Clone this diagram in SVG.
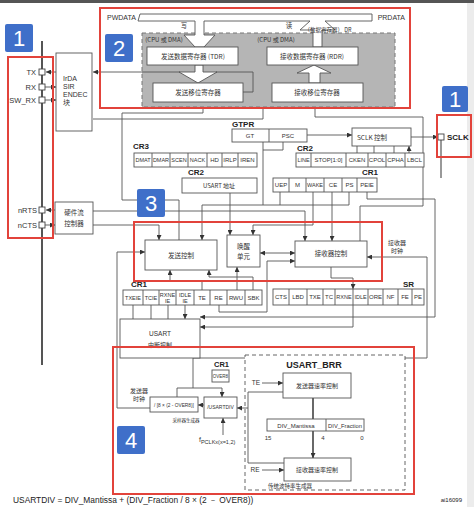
<svg xmlns="http://www.w3.org/2000/svg" width="474" height="507" viewBox="0 0 474 507">
<defs>
<style>
.b{fill:#fff;stroke:#555;stroke-width:0.9}
.l{fill:none;stroke:#555;stroke-width:0.9}
.t{font-family:"Liberation Sans","Noto Sans CJK SC",sans-serif;fill:#333;text-anchor:middle;font-size:6px}
.c{font-family:"Noto Sans CJK SC",sans-serif;fill:#333;text-anchor:middle;font-size:6.5px}
.h{font-family:"Liberation Sans",sans-serif;fill:#222;font-weight:bold;font-size:8px}
.p{font-family:"Liberation Sans",sans-serif;fill:#333;font-size:7.5px;text-anchor:end}
.red{fill:none;stroke:#e2433b;stroke-width:2}
.bg{fill:#3f6fc9}
.bt{font-family:"Liberation Sans",sans-serif;fill:#fff;font-size:22px;text-anchor:middle}
</style>
<marker id="a" viewBox="0 0 6 6" refX="6" refY="3" markerWidth="5" markerHeight="5" markerUnits="userSpaceOnUse" orient="auto-start-reverse"><path d="M0,0L6,3L0,6z" fill="#333"/></marker>
</defs>
<rect x="0" y="0" width="474" height="507" fill="#fff"/>
<rect x="0" y="0" width="474" height="3" fill="#555"/>
<rect x="467" y="3" width="7" height="504" fill="#ececec"/>

<g id="connectors">
<line x1="42" y1="41" x2="42" y2="365" stroke="#555" stroke-width="2"/>
<line x1="441" y1="140" x2="441" y2="178" stroke="#555" stroke-width="1.2"/>
<path class="l" d="M56,72H46" marker-end="url(#a)"/>
<path class="l" d="M45,87H56" marker-end="url(#a)"/>
<path class="l" d="M45,100H56" marker-end="url(#a)"/>
<path class="l" d="M55,210H46" marker-end="url(#a)"/>
<path class="l" d="M45,225H55" marker-end="url(#a)"/>
<path class="l" d="M243,92H253V72H93" marker-end="url(#a)"/>
<path class="l" d="M93,119H263V93H272" marker-end="url(#a)"/>
<path class="l" d="M179,240V200H122V113H203V102" marker-end="url(#a)"/>
<path class="l" d="M360,241V206H423V117H315V102" marker-end="url(#a)"/>
<path class="l" d="M263,142V205"/>
<path class="l" d="M283,142V150H263"/>
<path class="l" d="M307,135H352" marker-end="url(#a)"/>
<path class="l" d="M411,137H438" marker-end="url(#a)"/>
<path class="l" d="M357,153V146M374,153V146M394,153V146M409,153V146" marker-end="url(#a)"/>
<path class="l" d="M230,193V235" marker-end="url(#a)"/>
<path class="l" d="M280,192V205M349,192V205H202V240" marker-end="url(#a)"/>
<path class="l" d="M313,192V225H253V235" marker-end="url(#a)"/>
<path class="l" d="M332,192V241" marker-end="url(#a)"/>
<path class="l" d="M367,192V199H435V317H200" marker-end="url(#a)"/>
<path class="l" d="M93,211H305V241" marker-end="url(#a)"/>
<path class="l" d="M93,225H159V240" marker-end="url(#a)"/>
<path class="l" d="M260,253H295" marker-start="url(#a)" marker-end="url(#a)"/>
<path class="l" d="M219,305V312H267V261H295" marker-end="url(#a)"/>
<path class="l" d="M237,290V267" marker-end="url(#a)"/>
<path class="l" d="M202,290V281H170V270" marker-end="url(#a)"/>
<path class="l" d="M253,290V277H209V270" marker-end="url(#a)"/>
<path class="l" d="M150,408H117V252H145" marker-end="url(#a)"/>
<path class="l" d="M331,267V278H353V289" marker-end="url(#a)"/>
<path class="l" d="M353,305V327H200" marker-end="url(#a)"/>
<path class="l" d="M133,305V319M151,305V319M168,305V319M185,305V319" marker-end="url(#a)"/>
<path class="l" d="M245,358H193V388"/>
<path class="l" d="M177,388H222"/>
<path class="l" d="M177,388V397M222,388V397" marker-end="url(#a)"/>
<path class="l" d="M204,405H198" marker-end="url(#a)"/>
<path class="l" d="M223,435V418" marker-end="url(#a)"/>
<path class="l" d="M248,408H237" marker-end="url(#a)"/>
<path class="l" d="M283,392H248V463H284"/>
<path class="l" d="M262,383H283" marker-end="url(#a)"/>
<path class="l" d="M262,470H284" marker-end="url(#a)"/>
<path fill="none" stroke="#444" stroke-width="1.6" d="M313,419V398M313,431V458" marker-end="url(#a)"/>
<path class="l" d="M405,358H427V257H367" marker-end="url(#a)"/>
</g>

<g id="region2-bus">
<rect x="142" y="33" width="253" height="74" fill="#b5b5b5" stroke="#777" stroke-width="1" stroke-dasharray="4,3"/>
<polygon class="b" points="138,21 195,21 195,35 184,35 195,47 204,47 215,35 204,35 204,21 310,21 300,30 313,30 313,47 322,47 322,30 335,30 325,21 372,21 372,14 140,14"/>
<polygon class="b" points="195,65 195,72 179,72 198,83 217,72 203,72 203,65"/>
<polygon class="b" points="309,83 309,73 297,73 314,65 331,73 320,73 320,83"/>
<path class="l" d="M243,92H253V72H216M180,72H142"/>
<text class="t" x="107" y="20" style="text-anchor:start;font-size:7px">PWDATA</text>
<text class="t" x="405" y="20" style="text-anchor:end;font-size:7px">PRDATA</text>
<text class="c" x="184" y="28">写</text>
<text class="c" x="289" y="28">读</text>
<text class="c" x="328" y="32" style="font-size:5.5px">（数据寄存器） DR</text>
<text class="c" x="164" y="42" style="font-size:6px">(CPU 或 DMA)</text>
<text class="c" x="276" y="42" style="font-size:6px">(CPU 或 DMA)</text>
</g>

<g id="tdr"><rect class="b" x="147" y="47" width="91" height="18"/><text class="c" x="193" y="59">发送数据寄存器 (TDR)</text></g>
<g id="rdr"><rect class="b" x="267" y="47" width="91" height="18"/><text class="c" x="312" y="59">接收数据寄存器 (RDR)</text></g>
<g id="txshift"><rect class="b" x="153" y="83" width="90" height="19"/><text class="c" x="198" y="95">发送移位寄存器</text></g>
<g id="rxshift"><rect class="b" x="272" y="83" width="91" height="19"/><text class="c" x="317" y="95">接收移位寄存器</text></g>

<g id="pins">
<rect x="39" y="69" width="6" height="6" fill="#fff" stroke="#444" stroke-width="0.9"/>
<rect x="39" y="84" width="6" height="6" fill="#fff" stroke="#444" stroke-width="0.9"/>
<rect x="39" y="97" width="6" height="6" fill="#fff" stroke="#444" stroke-width="0.9"/>
<rect x="39" y="207" width="6" height="6" fill="#fff" stroke="#444" stroke-width="0.9"/>
<rect x="39" y="222" width="6" height="6" fill="#fff" stroke="#444" stroke-width="0.9"/>
<text class="p" x="36" y="75">TX</text>
<text class="p" x="36" y="90">RX</text>
<text class="p" x="36" y="103">SW_RX</text>
<text class="p" x="37" y="213">nRTS</text>
<text class="p" x="37" y="228">nCTS</text>
<rect x="438" y="134" width="6" height="6" fill="#fff" stroke="#444" stroke-width="0.9"/>
<text class="h" x="447" y="140">SCLK</text>
</g>

<g id="irda"><rect class="b" x="56" y="53" width="36" height="78"/>
<text class="t" x="63" y="81" style="text-anchor:start;font-size:7px">IrDA</text>
<text class="t" x="63" y="89" style="text-anchor:start;font-size:7px">SIR</text>
<text class="t" x="63" y="97" style="text-anchor:start;font-size:7px">ENDEC</text>
<text class="c" x="63" y="105" style="text-anchor:start;font-size:7px">块</text></g>

<g id="hwflow"><rect class="b" x="55" y="202" width="38" height="32"/>
<text class="c" x="74" y="215">硬件流</text><text class="c" x="74" y="226">控制器</text></g>

<g id="gtpr"><text class="h" x="232" y="127">GTPR</text>
<rect class="b" x="232" y="129" width="75" height="13"/><line class="l" x1="269" y1="129" x2="269" y2="142"/>
<text class="t" x="250" y="138">GT</text><text class="t" x="288" y="138">PSC</text></g>

<g id="sclkctrl"><rect class="b" x="352" y="128" width="59" height="18"/><text class="c" x="372" y="140">SCLK 控制</text></g>

<g id="cr3"><text class="h" x="133" y="149">CR3</text>
<rect class="b" x="134" y="153" width="123" height="14"/>
<path class="l" d="M152,153V167M170,153V167M188,153V167M207,153V167M222,153V167M238,153V167"/>
<text class="t" x="143" y="162" style="font-size:5.5px">DMAT</text>
<text class="t" x="161" y="162" style="font-size:5.5px">DMAR</text>
<text class="t" x="179" y="162" style="font-size:5.5px">SCEN</text>
<text class="t" x="197.5" y="162" style="font-size:5.5px">NACK</text>
<text class="t" x="214.5" y="162">HD</text>
<text class="t" x="230" y="162">IRLP</text>
<text class="t" x="247.5" y="162">IREN</text></g>

<g id="cr2top"><text class="h" x="297" y="151">CR2</text>
<rect class="b" x="296" y="153" width="128" height="14"/>
<path class="l" d="M311,153V167M346,153V167M368,153V167M386,153V167M405,153V167"/>
<text class="t" x="303.5" y="162" style="font-size:5.5px">LINE</text>
<text class="t" x="328.5" y="162">STOP[1:0]</text>
<text class="t" x="357" y="162">CKEN</text>
<text class="t" x="377" y="162">CPOL</text>
<text class="t" x="395.5" y="162">CPHA</text>
<text class="t" x="414.5" y="162">LBCL</text></g>

<g id="cr2addr"><text class="h" x="188" y="175">CR2</text>
<rect class="b" x="182" y="178" width="75" height="15"/><text class="c" x="219" y="188" style="font-size:6px">USART 地址</text></g>

<g id="cr1top"><text class="h" x="362" y="175">CR1</text>
<rect class="b" x="273" y="178" width="104" height="14"/>
<path class="l" d="M289,178V192M306,178V192M324,178V192M342,178V192M357,178V192"/>
<text class="t" x="281" y="187">UEP</text>
<text class="t" x="297.5" y="187">M</text>
<text class="t" x="315" y="187" style="font-size:5.5px">WAKE</text>
<text class="t" x="333" y="187">CE</text>
<text class="t" x="349.5" y="187">PS</text>
<text class="t" x="367" y="187">PEIE</text></g>

<g id="txctrl"><rect class="b" x="145" y="240" width="72" height="30"/><text class="c" x="181" y="258">发送控制</text></g>
<g id="wakeup"><rect class="b" x="227" y="235" width="33" height="32"/><text class="c" x="243.5" y="249">唤醒</text><text class="c" x="243.5" y="259">单元</text></g>
<g id="rxctrl"><rect class="b" x="295" y="241" width="72" height="26"/><text class="c" x="331" y="256">接收器控制</text></g>

<g id="cr1bottom"><text class="h" x="131" y="287">CR1</text>
<rect class="b" x="123" y="290" width="139" height="15"/>
<path class="l" d="M143,290V305M159,290V305M176,290V305M194,290V305M210,290V305M227,290V305M245,290V305"/>
<text class="t" x="133" y="299.5" style="font-size:5.5px">TXEIE</text>
<text class="t" x="151" y="299.5" style="font-size:5.5px">TCIE</text>
<text class="t" x="167.5" y="296.5" style="font-size:5.5px">RXNE</text>
<text class="t" x="167.5" y="303" style="font-size:5.5px">IE</text>
<text class="t" x="185" y="296.5" style="font-size:5.5px">IDLE</text>
<text class="t" x="185" y="303" style="font-size:5.5px">IE</text>
<text class="t" x="202" y="299.5">TE</text>
<text class="t" x="218.5" y="299.5">RE</text>
<text class="t" x="236" y="299.5">RWU</text>
<text class="t" x="253.5" y="299.5">SBK</text></g>

<g id="sr"><text class="h" x="403" y="287">SR</text>
<rect class="b" x="273" y="289" width="151" height="16"/>
<path class="l" d="M289,289V305M307,289V305M323,289V305M335,289V305M353,289V305M368,289V305M383,289V305M398,289V305M412,289V305"/>
<text class="t" x="281" y="299">CTS</text>
<text class="t" x="298" y="299">LBD</text>
<text class="t" x="315" y="299">TXE</text>
<text class="t" x="329" y="299">TC</text>
<text class="t" x="344" y="299" style="font-size:5.5px">RXNE</text>
<text class="t" x="360.5" y="299" style="font-size:5.5px">IDLE</text>
<text class="t" x="375.5" y="299">ORE</text>
<text class="t" x="390.5" y="299">NF</text>
<text class="t" x="405" y="299">FE</text>
<text class="t" x="418" y="299">PE</text></g>

<g id="irqctrl"><rect class="b" x="120" y="319" width="80" height="39"/>
<text class="t" x="160" y="336" style="font-size:6.5px">USART</text><text class="c" x="160" y="347" style="font-size:6px">中断控制</text></g>

<g id="labels-clock">
<text class="c" x="139" y="393" style="font-size:6px">发送器</text><text class="c" x="139" y="401" style="font-size:6px">时钟</text>
<text class="c" x="397" y="245" style="font-size:6px">接收器</text><text class="c" x="397" y="253" style="font-size:6px">时钟</text>
</g>

<g id="over8"><text class="h" x="214" y="367" style="font-size:7.5px">CR1</text>
<rect class="b" x="212" y="370" width="17" height="12"/><text class="t" x="220.5" y="378" style="font-size:4.5px">OVER8</text></g>
<g id="div8"><rect class="b" x="150" y="397" width="48" height="15"/><text class="t" x="174" y="407" style="font-size:4.8px">/ [8 × (2 - OVER8)]</text>
<text class="c" x="186" y="422" style="font-size:4.5px">采样器生成器</text></g>
<g id="usartdiv"><rect class="b" x="204" y="397" width="33" height="21"/><text class="t" x="220.5" y="409" style="font-size:5px">/USARTDIV</text></g>
<g id="fpclk"><text class="t" x="199" y="442" style="text-anchor:start;font-size:7px">f<tspan dy="2" style="font-size:5.5px">PCLKx(x=1,2)</tspan></text></g>

<g id="brr">
<rect x="245" y="355" width="160" height="135" fill="none" stroke="#555" stroke-width="0.9" stroke-dasharray="4,3"/>
<text class="h" x="314" y="368" style="font-size:9px;text-anchor:middle">USART_BRR</text>
<text class="t" x="256" y="385" style="font-size:6.5px">TE</text>
<text class="t" x="255" y="472" style="font-size:6.5px">RE</text>
<text class="c" x="290" y="488" style="font-size:5.5px">传统波特率生成器</text>
</g>
<g id="txrate"><rect class="b" x="283" y="373" width="68" height="25"/><text class="c" x="317" y="388" style="font-size:6px">发送器速率控制</text></g>
<g id="divreg"><rect class="b" x="267" y="419" width="97" height="12"/><line class="l" x1="326" y1="419" x2="326" y2="431"/>
<text class="t" x="296" y="427.5" style="font-size:6px">DIV_Mantissa</text><text class="t" x="345" y="427.5" style="font-size:5.8px">DIV_Fraction</text>
<text class="t" x="268" y="440">15</text><text class="t" x="323" y="440">4</text><text class="t" x="362" y="440">0</text></g>
<g id="rxrate"><rect class="b" x="284" y="458" width="67" height="23"/><text class="c" x="317" y="472" style="font-size:6px">接收器速率控制</text></g>

<g id="regions">
<rect class="red" x="8" y="57" width="45" height="181"/>
<rect class="red" x="100" y="8" width="310" height="100"/>
<rect class="red" x="437" y="115" width="34" height="42"/>
<rect class="red" x="134" y="222" width="248" height="59"/>
<rect class="red" x="113" y="347" width="301" height="147"/>
</g>

<g id="badges">
<rect class="bg" x="5" y="24" width="28" height="28" rx="2"/><text class="bt" x="19" y="46">1</text>
<rect class="bg" x="105" y="34" width="28" height="28" rx="2"/><text class="bt" x="119" y="56">2</text>
<rect class="bg" x="442" y="86" width="26" height="26" rx="2"/><text class="bt" x="455" y="107">1</text>
<rect class="bg" x="137" y="189" width="28" height="28" rx="2"/><text class="bt" x="151" y="211">3</text>
<rect class="bg" x="117" y="426" width="28" height="28" rx="2"/><text class="bt" x="131" y="448">4</text>
</g>

<g id="footer">
<text x="13" y="503" style="font-family:'Liberation Sans',sans-serif;font-size:8.4px;fill:#222">USARTDIV = DIV_Mantissa + (DIV_Fraction / 8 × (2 － OVER8))</text>
<text x="462" y="502" style="font-family:'Liberation Sans',sans-serif;font-size:6px;fill:#222;text-anchor:end">ai16099</text>
</g>
</svg>
